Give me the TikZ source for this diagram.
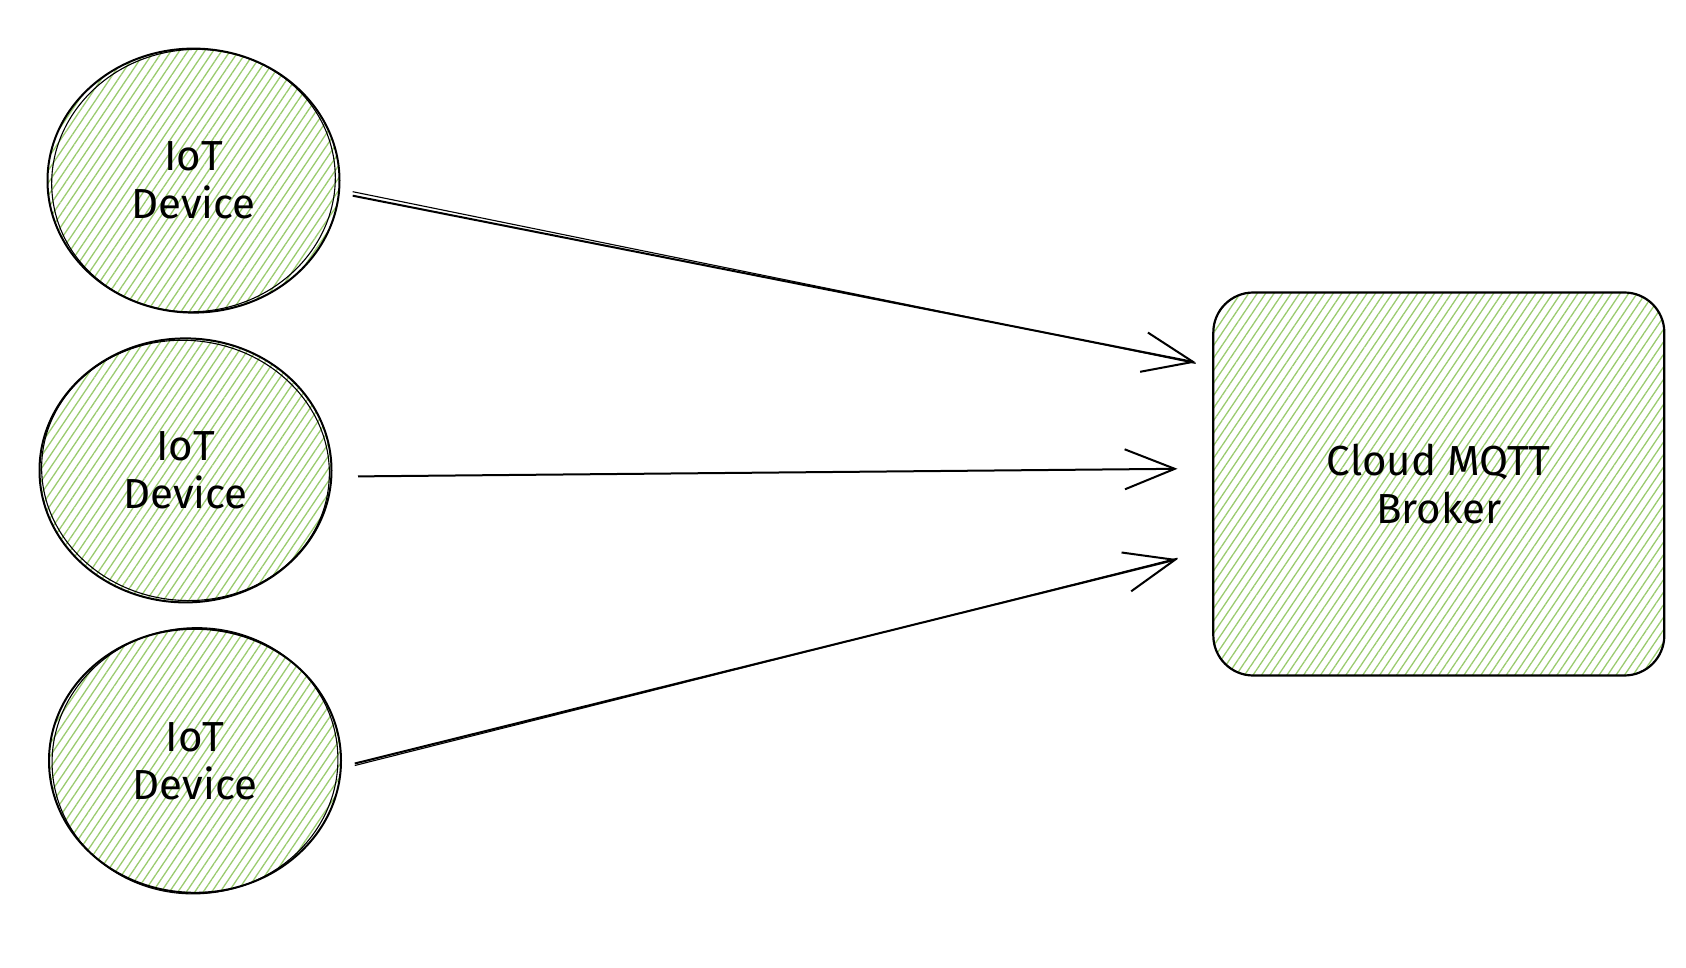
\documentclass[tikz,border=0pt]{standalone}
\usepackage{fontspec}
\setmainfont{Fira Sans}
\usetikzlibrary{arrows.meta,patterns.meta,shapes.geometric}
\definecolor{hatch}{HTML}{9ACB6E}
\tikzset{
  hatchfill/.style={pattern={Lines[angle=56,distance=7pt,line width=1.3pt]},pattern color=hatch},
  device/.style={ellipse,draw=black,line width=2pt,hatchfill,minimum width=292pt,minimum height=264pt,
    align=center,font=\fontsize{42}{48}\selectfont,inner sep=0pt},
  broker/.style={rectangle,rounded corners=40pt,draw=black,line width=2.2pt,hatchfill,
    minimum width=451pt,minimum height=383pt,align=center,font=\fontsize{42}{48}\selectfont},
  flow/.style={draw=black,line width=2pt,-{Straight Barb[length=50pt,width=40pt,line width=2pt]}},
  sketch/.style={draw=black,line width=1.1pt}
}
\begin{document}
\begin{tikzpicture}[x=1pt,y=-1pt]
\useasboundingbox (0,0) rectangle (1686,968);
\node[device] (d1) at (193.5,180.6) {IoT\\Device};
\node[device] (d2) at (185.5,470.4) {IoT\\Device};
\node[device] (d3) at (195,760.8) {IoT\\Device};
\node[broker] (b) at (1438.8,484) {Cloud MQTT\\Broker};
% sketchy second outlines
\draw[sketch,rotate around={8:(d1.center)}] (d1.center) ellipse[x radius=142pt,y radius=131pt];
\draw[sketch,rotate around={-6:(d2.center)}] (d2.center) ellipse[x radius=144pt,y radius=130pt];
\draw[sketch,rotate around={5:(d3.center)}] (d3.center) ellipse[x radius=143pt,y radius=133pt];
\coordinate (t1) at (1195.7,362.4);
\coordinate (t2) at (1177.5,468.8);
\coordinate (t3) at (1177.5,559.2);
\coordinate (s1) at (352.7,195.7);
\coordinate (s2) at (358,476.4);
\coordinate (s3) at (354.8,763.5);
\draw[flow] (s1) -- (t1);
\draw[flow] (s2) -- (t2);
\draw[flow] (s3) -- (t3);
\draw[sketch] ([yshift=4pt]s1) -- ([yshift=-1pt]t1);
\draw[sketch] ([yshift=-2pt]s3) -- ([yshift=1pt]t3);
\end{tikzpicture}
\end{document}
